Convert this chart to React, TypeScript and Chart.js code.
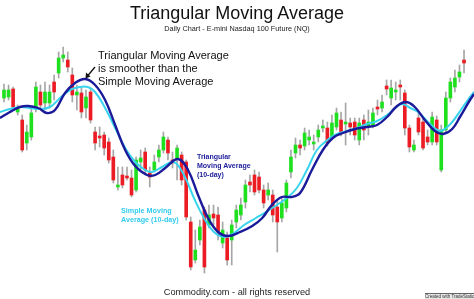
import React, { useEffect, useRef } from "react";
import { Chart, registerables } from "chart.js";

Chart.register(...registerables);

// Daily candles (price units, arbitrary scale)
const opens = [
  202, 203, 211, 188, 180, 157, 163, 193, 208, 197, 197, 218, 227, 242, 240, 225, 205, 207, 192, 208,
  168, 164, 165, 158, 143, 113, 125, 124, 122, 110, 138, 148, 127, 130, 143, 150, 160, 140, 142, 145,
  138, 78, 40, 60, 90, 75, 86, 85, 57, 62, 60, 78, 85, 98, 118, 125, 123, 110, 105, 105,
  93, 82, 92, 128, 147, 155, 154, 160, 156, 163, 172, 172, 163, 173, 180, 176, 177, 178, 160, 180,
  173, 175, 193, 192, 214, 202, 208, 215, 207, 172, 150, 182, 178, 163, 158, 180, 130, 170, 202, 213,
  223, 240,
];
const highs = [
  216, 215, 213, 195, 185, 175, 192, 218, 215, 218, 215, 225, 248, 253, 248, 232, 215, 212, 210, 212,
  173, 173, 168, 162, 150, 133, 133, 133, 130, 143, 150, 152, 133, 145, 155, 168, 163, 148, 155, 148,
  140, 83, 70, 80, 93, 95, 95, 93, 78, 68, 80, 95, 102, 120, 125, 130, 128, 115, 117, 110,
  100, 102, 120, 150, 162, 160, 172, 170, 165, 175, 180, 178, 185, 192, 188, 197, 182, 182, 182, 185,
  190, 192, 200, 205, 220, 220, 218, 220, 210, 175, 160, 187, 182, 170, 188, 184, 175, 208, 222, 230,
  235, 250,
];
const lows = [
  198, 200, 190, 185, 148, 150, 160, 188, 192, 190, 192, 200, 222, 238, 228, 198, 190, 182, 182, 177,
  150, 153, 145, 137, 117, 110, 112, 120, 103, 108, 130, 125, 113, 128, 138, 147, 140, 132, 120, 115,
  80, 30, 37, 55, 27, 72, 75, 60, 52, 35, 35, 72, 80, 92, 108, 105, 107, 92, 100, 78,
  48, 78, 88, 122, 142, 145, 150, 155, 150, 158, 168, 154, 160, 170, 164, 155, 165, 160, 155, 160,
  165, 172, 185, 188, 205, 195, 200, 200, 165, 148, 148, 165, 150, 155, 155, 155, 128, 167, 198, 208,
  218, 227,
];
const closes = [
  210, 210, 193, 191, 150, 168, 187, 213, 195, 208, 208, 208, 242, 245, 233, 205, 208, 188, 203, 180,
  157, 162, 152, 140, 120, 115, 115, 122, 105, 140, 142, 130, 123, 138, 150, 163, 147, 137, 152, 120,
  83, 33, 50, 73, 33, 85, 82, 68, 70, 40, 75, 90, 95, 115, 115, 108, 110, 97, 110, 85,
  78, 97, 117, 143, 155, 152, 167, 163, 158, 170, 174, 157, 177, 187, 168, 178, 173, 165, 177, 170,
  178, 187, 191, 198, 211, 212, 210, 213, 172, 153, 155, 168, 152, 158, 183, 158, 170, 202, 218, 222,
  228, 237,
];

// Triangular Moving Average (10-day): [day, value]
const tmaDays = [
  -0.9, 1.3, 3.5, 5.3, 7.5, 9.4, 11.2, 13.4, 15.6, 17.8, 20, 22.2, 24.4, 26.6, 28.8, 31.4, 33.2, 35.4,
  38.2, 40.4, 42.6, 44.8, 47, 49.2, 51.8, 54.5, 56.7, 58.8, 61, 63.2, 65, 67.6, 70, 72.2, 74.4, 77.1,
  79.7, 81.9, 84.1, 86.3, 88.3, 90.2, 92.4, 94.6, 96.4, 98.4, 100.1, 102.3, 103.2,
];
const tmaValues = [
  182, 188, 193, 194, 192, 187, 190, 207, 217, 221, 215, 200, 175, 150, 134, 125, 125, 132,
  141, 130, 105, 82, 68, 64, 68, 74, 82, 95, 103, 103, 107, 130, 150, 162, 167, 171,
  173, 175, 183, 194, 198, 193, 180, 169, 166, 171, 183, 200, 206,
];

// Simple Moving Average (10-day): [day, value]
const smaDays = [
  -0.9, 1.3, 3.5, 5.7, 7.9, 10.1, 12.3, 14.5, 16.7, 18.4, 20, 22.2, 24.4, 26.6, 28.8, 31, 32.5, 34.7,
  37.3, 39.5, 41.7, 43.9, 46.1, 48.3, 50.5, 52.7, 55.3, 57.5, 59.9, 62.1, 64.3, 66.5, 68.7, 71, 73.1,
  75.3, 77.5, 79.7, 81.9, 84.1, 85.9, 87.4, 89.2, 90.9, 93.1, 95.1, 96.4, 98.4, 100.6, 102.3, 103.2,
];
const smaValues = [
  188, 191, 193, 192, 191, 193, 202, 210, 213, 213, 208, 192, 172, 152, 138, 130, 128, 133,
  138, 125, 102, 82, 68, 63, 67, 75, 82, 88, 95, 102, 112, 130, 150, 160, 166,
  169, 172, 176, 179, 185, 192, 196, 192, 188, 178, 170, 170, 178, 192, 203, 208,
];

const UP = "#1fe01f";
const DOWN = "#ec1c24";
const WICK = "#a6a6a6";
const TMA_COLOR = "#1a1a9a";
const SMA_COLOR = "#38d4ee";

const X_MIN = -0.878;
const X_MAX = 103.19;

export default function App() {
  const ref = useRef<HTMLCanvasElement | null>(null);

  useEffect(() => {
    document.body.style.margin = "0";
    const canvas = ref.current;
    if (!canvas) return;
    const bodies = opens.map((o, i) => ({ x: i, y: [o, closes[i]] }));
    const wicks = lows.map((l, i) => ({ x: i, y: [l, highs[i]] }));
    const bodyColors = opens.map((o, i) => (closes[i] >= o ? UP : DOWN));
    const tma = tmaDays.map((d, i) => ({ x: d, y: tmaValues[i] }));
    const sma = smaDays.map((d, i) => ({ x: d, y: smaValues[i] }));

    const chart = new Chart(canvas, {
      type: "bar",
      data: {
        datasets: [
          {
            type: "line",
            label: "Triangular Moving Average (10-day)",
            data: tma as any,
            borderColor: TMA_COLOR,
            borderWidth: 2.4,
            pointRadius: 0,
            tension: 0.4,
            order: 0,
          } as any,
          {
            type: "line",
            label: "Simple Moving Average (10-day)",
            data: sma as any,
            borderColor: SMA_COLOR,
            borderWidth: 2,
            pointRadius: 0,
            tension: 0.4,
            order: 1,
          } as any,
          {
            type: "bar",
            label: "Body",
            data: bodies as any,
            backgroundColor: bodyColors,
            barThickness: 3,
            grouped: false,
            borderWidth: 0,
            order: 2,
          } as any,
          {
            type: "bar",
            label: "Wick",
            data: wicks as any,
            backgroundColor: WICK,
            barThickness: 1,
            grouped: false,
            borderWidth: 0,
            order: 3,
          } as any,
        ],
      },
      options: {
        animation: false,
        responsive: false,
        events: [],
        layout: { padding: 0 },
        plugins: { legend: { display: false }, tooltip: { enabled: false }, title: { display: false } },
        scales: {
          x: { type: "linear", min: X_MIN, max: X_MAX, display: false, offset: false, grid: { display: false } },
          y: { min: 1, max: 300, display: false, grid: { display: false } },
        },
      },
    });
    return () => chart.destroy();
  }, []);

  const font = "'Liberation Sans', Arial, sans-serif";
  const abs: React.CSSProperties = { position: "absolute", fontFamily: font, whiteSpace: "nowrap", lineHeight: 1 };

  return (
    <div style={{ position: "relative", width: 474, height: 299, background: "#fff", overflow: "hidden" }}>
      <canvas ref={ref} width={474} height={299} style={{ position: "absolute", left: 0, top: 0 }} />
      <div style={{ ...abs, left: 0, width: 474, top: 4, textAlign: "center", fontSize: 18, color: "#111" }}>
        Triangular Moving Average
      </div>
      <div style={{ ...abs, left: 0, width: 474, top: 25, textAlign: "center", fontSize: 7.3, color: "#222" }}>
        Daily Chart - E-mini Nasdaq 100 Future (NQ)
      </div>
      <div style={{ ...abs, left: 98, top: 49, fontSize: 11, lineHeight: "13px", color: "#111" }}>
        Triangular Moving Average
        <br />
        is smoother than the
        <br />
        Simple Moving Average
      </div>
      <svg width={474} height={299} style={{ position: "absolute", left: 0, top: 0 }}>
        <line x1={95} y1={67} x2={87.5} y2={76} stroke="#111" strokeWidth={1.3} />
        <polygon points="85.5,78.5 86,72.5 90.5,76.5" fill="#111" />
      </svg>
      <div style={{ ...abs, left: 197, top: 152, fontSize: 7, lineHeight: "9px", fontWeight: "bold", color: TMA_COLOR }}>
        Triangular
        <br />
        Moving Average
        <br />
        (10-day)
      </div>
      <div style={{ ...abs, left: 121, top: 206, fontSize: 7.2, lineHeight: "9px", fontWeight: "bold", color: "#33ccee" }}>
        Simple Moving
        <br />
        Average (10-day)
      </div>
      <div style={{ ...abs, left: 0, width: 474, top: 288, textAlign: "center", fontSize: 9.2, color: "#222" }}>
        Commodity.com - all rights reserved
      </div>
      <div
        style={{
          ...abs,
          left: 425,
          top: 293,
          width: 49,
          height: 6,
          fontSize: 4.5,
          lineHeight: "6px",
          color: "#333",
          background: "#e6e6e6",
          borderTop: "1px solid #666",
          textAlign: "center",
        }}
      >
        Created with TradeStation
      </div>
    </div>
  );
}
